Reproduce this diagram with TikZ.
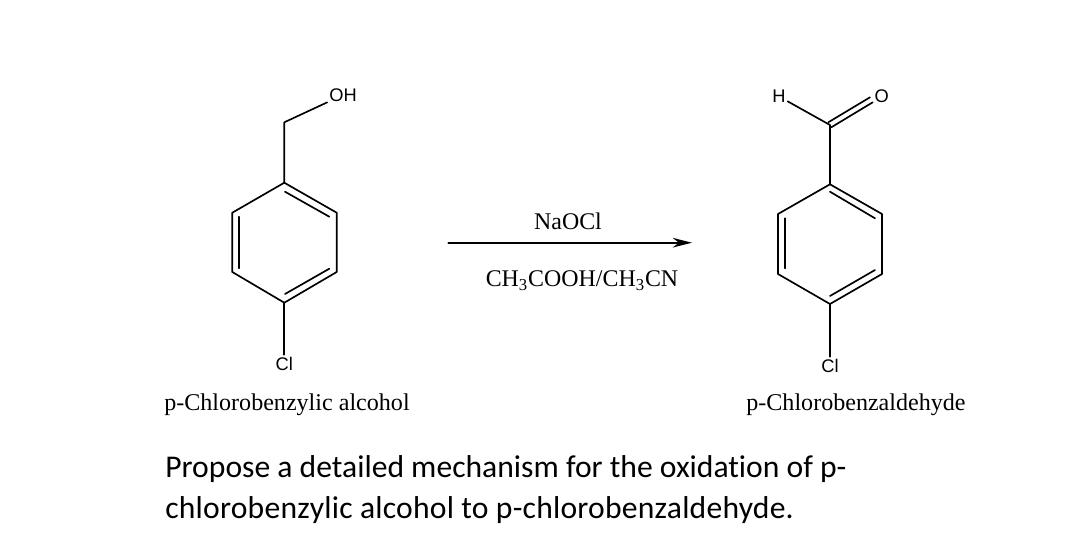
\documentclass[tikz,border=0pt]{standalone}
\usepackage{fontspec}
\setmainfont{Liberation Serif}
\newfontfamily\atomfont{Liberation Sans}
\newfontfamily\notefont[Ligatures=NoCommon]{Carlito}
\usetikzlibrary{arrows.meta}
\tikzset{
	atom/.style={font=\atomfont\fontsize{10.4}{12}\selectfont,inner sep=1pt},
	reagent/.style={font=\fontsize{13.6}{16}\selectfont,inner sep=0pt},
	caption/.style={font=\fontsize{13.7}{16}\selectfont,inner sep=0pt},
	note/.style={anchor=west,inner sep=0pt,font=\notefont\fontsize{18}{22}\selectfont},
	bond/.style={line width=0.95pt,line cap=round,line join=round},
}
\begin{document}
\begin{tikzpicture}[x=0.02cm,y=-0.02cm,>={Stealth[length=11pt,width=5.5pt]}]
	\useasboundingbox (0,0) rectangle (1080,542);
	% left molecule
	\coordinate (a1) at (284.3,182.7);
	\coordinate (a2) at (336.7,212.7);
	\coordinate (a3) at (336.7,272);
	\coordinate (a4) at (284.3,302.7);
	\coordinate (a5) at (232.3,272);
	\coordinate (a6) at (232.3,212.7);
	\coordinate (ach) at (284.3,122.3);
	\node[atom] (oh) at (343,95) {OH};
	\node[atom] (acl) at (284.3,363.5) {Cl};
	\draw[bond] (a1)--(a2)--(a3)--(a4)--(a5)--(a6)--cycle;
	\draw[bond] (285,191.7)--(329.3,216.7);
	\draw[bond] (285,294)--(329.3,268.7);
	\draw[bond] (239.3,216.7)--(239.3,268.3);
	\draw[bond] (a1)--(ach)--(oh);
	\draw[bond] (a4)--(acl);
	% reaction arrow
	\coordinate (start) at (448.3,242.7);
	\coordinate (end) at (692,242.7);
	\draw[->,bond] (start)--(end);
	\node[reagent] (naocl) at (568,221.5) {NaOCl};
	\node[reagent] (solvent) at (582,281) {CH\textsubscript{3}COOH/CH\textsubscript{3}CN};
	% right molecule
	\coordinate (b1) at (830,184.3);
	\coordinate (b2) at (882,214);
	\coordinate (b3) at (882,274);
	\coordinate (b4) at (830,304);
	\coordinate (b5) at (778,274);
	\coordinate (b6) at (778,214);
	\coordinate (bch) at (830,125);
	\node[atom] (h) at (779,96.5) {H};
	\node[atom] (o) at (881.7,96.5) {O};
	\node[atom] (bcl) at (830,365.5) {Cl};
	\draw[bond] (b1)--(b2)--(b3)--(b4)--(b5)--(b6)--cycle;
	\draw[bond] (830,191.7)--(875,218.3);
	\draw[bond] (830,296)--(875,270);
	\draw[bond] (785.3,218.3)--(785.3,268.3);
	\draw[bond] (b1)--(bch)--(h);
	\draw[bond] (b4)--(bcl);
	\draw[bond] (828.3,122.3)--(870,97.3);
	\draw[bond] (831.3,127.3)--(872.7,102.3);
	% names
	\node[caption] (alcohol) at (287,404.5) {p-Chlorobenzylic alcohol};
	\node[caption] (aldehyde) at (856,404.5) {p-Chlorobenzaldehyde};
	% question
	\node[note] (line1) at (165,469.5) {Propose a detailed mechanism for the oxidation of p-};
	\node[note] (line2) at (165,510) {\addfontfeature{LetterSpace=0.7}chlorobenzylic alcohol to p-chlorobenzaldehyde.};
\end{tikzpicture}
\end{document}
